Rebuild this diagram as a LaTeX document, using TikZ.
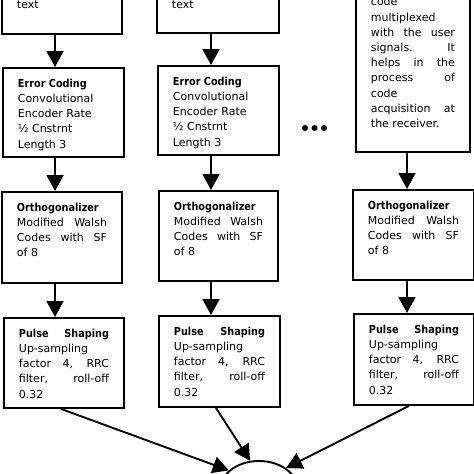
\documentclass[tikz,border=0pt]{standalone}
\usepackage{fontspec}
\setmainfont{DejaVu Sans}[BoldFeatures={FakeStretch=0.88}]
\usetikzlibrary{arrows.meta,shapes.geometric}
\newcommand\jline[1]{\makebox[\linewidth][s]{#1}}
\newcommand\boxpar[3]{\parbox[t][#1][t]{#2}{#3}}
\tikzset{
  blk/.style={draw, line width=1.9pt, anchor=north west, inner xsep=15pt, inner ysep=11pt,
    font=\fontsize{11}{15.2}\selectfont},
  arr/.style={line width=1.9pt, -{Triangle[width=17pt,length=16pt]}},
  dot/.style={circle, fill=black, inner sep=0pt, minimum size=6pt}
}
\begin{document}
\begin{tikzpicture}[x=1pt,y=-1pt]
\useasboundingbox (0,0) rectangle (474,474);
% column guide coordinates
\coordinate (c1) at (55,0);
\coordinate (c2) at (211,0);
\coordinate (c3) at (407,0);
% top boxes
\node[blk] (t1) at (1,-11) {\boxpar{22pt}{90pt}{text}};
\node[blk] (t2) at (156,-11) {\boxpar{21pt}{92pt}{text}};
\node[blk] (t3) at (355,-14.4) {\boxpar{143.4pt}{84pt}{code\\
multiplexed\\
\jline{with the user}\\
\jline{signals. It}\\
\jline{helps in the}\\
\jline{process of}\\
code\\
\jline{acquisition at}\\
the receiver.}};
% error coding
\node[blk] (e1) at (2,67) {\boxpar{67pt}{91pt}{{\bfseries Error Coding}\\ Convolutional\\ Encoder Rate\\ ½ Cnstrnt\\ Length 3}};
\node[blk] (e2) at (157,65) {\boxpar{67pt}{91pt}{{\bfseries Error Coding}\\ Convolutional\\ Encoder Rate\\ ½ Cnstrnt\\ Length 3}};
% orthogonalizer
\node[blk] (o1) at (1,191) {\boxpar{69pt}{90pt}{{\bfseries Orthogonalizer}\\ \jline{Modified Walsh}\\ \jline{Codes with SF}\\ of 8}};
\node[blk] (o2) at (158,190) {\boxpar{68pt}{89pt}{{\bfseries Orthogonalizer}\\ \jline{Modified Walsh}\\ \jline{Codes with SF}\\ of 8}};
\node[blk] (o3) at (352,189) {\boxpar{68pt}{91pt}{{\bfseries Orthogonalizer}\\ \jline{Modified Walsh}\\ \jline{Codes with SF}\\ of 8}};
% pulse shaping
\node[blk] (p1) at (3,317) {\boxpar{68pt}{90pt}{\jline{\bfseries Pulse Shaping}\\ Up-sampling\\ \jline{factor 4, RRC}\\ \jline{filter, roll-off}\\ 0.32}};
\node[blk] (p2) at (158,315) {\boxpar{69pt}{91pt}{\jline{\bfseries Pulse Shaping}\\ Up-sampling\\ \jline{factor 4, RRC}\\ \jline{filter, roll-off}\\ 0.32}};
\node[blk] (p3) at (353,313) {\boxpar{69pt}{90pt}{\jline{\bfseries Pulse Shaping}\\ Up-sampling\\ \jline{factor 4, RRC}\\ \jline{filter, roll-off}\\ 0.32}};
% combiner
\node[draw, ellipse, line width=1.9pt, minimum width=78pt, minimum height=58pt, inner sep=0pt] (sum) at (259,490) {};
% dots
\node[dot] (d1) at (305,128) {};
\node[dot] (d2) at (314.5,128) {};
\node[dot] (d3) at (324,128) {};
% vertical connectors
\draw[arr] (t1.south -| c1) -- (e1.north -| c1);
\draw[arr] (e1.south -| c1) -- (o1.north -| c1);
\draw[arr] (o1.south -| c1) -- (p1.north -| c1);
\draw[arr] (t2.south -| c2) -- (e2.north -| c2);
\draw[arr] (e2.south -| c2) -- (o2.north -| c2);
\draw[arr] (o2.south -| c2) -- (p2.north -| c2);
\draw[arr] (t3.south -| c3) -- (o3.north -| c3);
\draw[arr] (o3.south -| c3) -- (p3.north -| c3);
% to combiner
\draw[arr] ([xshift=-3pt]p1.south) -- (sum.147);
\draw[arr] ([xshift=-3.5pt]p2.south) -- (sum.107);
\draw[arr] ([xshift=-5pt]p3.south) -- (sum.39);
\end{tikzpicture}
\end{document}
